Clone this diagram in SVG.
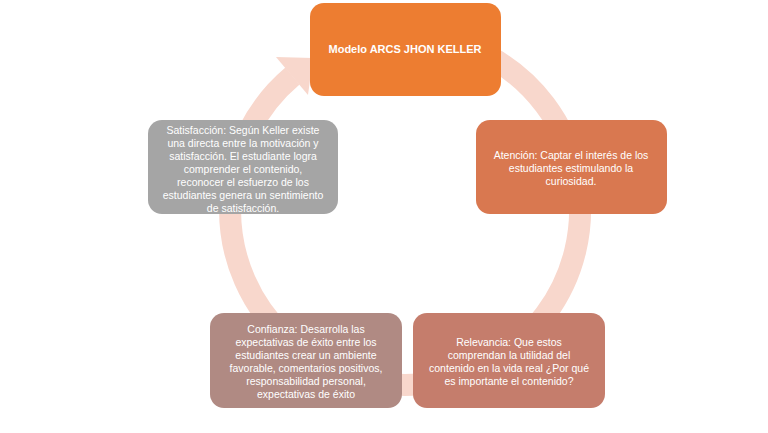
<svg xmlns="http://www.w3.org/2000/svg" width="768" height="433" viewBox="0 0 768 433">
<style>
text{font-family:"Liberation Sans",Arial,sans-serif;font-size:10.5px;fill:#fff;text-anchor:middle}
.b{font-weight:bold;font-size:11px}
</style>
<rect width="768" height="433" fill="#fff"/>
<g id="connectors">
<path d="M492.5,58.4 A175,175 0 1 1 292.5,76" fill="none" stroke="#f8d7cc" stroke-width="22"/>
<polygon points="308,95 276,57 313,58" fill="#f8d7cc"/>
</g>
<g id="top"><rect x="310" y="3" width="191" height="93" rx="14" fill="#ed7d31"/>
<text class="b" x="405" y="53">Modelo ARCS JHON KELLER</text></g>
<g id="atencion"><rect x="476" y="120" width="191" height="94" rx="14" fill="#d97850"/>
<text x="571" y="159">Atención: Captar el interés de los</text>
<text x="571" y="172">estudiantes estimulando la</text>
<text x="571" y="185">curiosidad.</text></g>
<g id="relevancia"><rect x="413" y="313" width="192" height="95" rx="14" fill="#c57d6c"/>
<text x="509" y="346">Relevancia: Que estos</text>
<text x="509" y="359">comprendan la utilidad del</text>
<text x="509" y="372">contenido en la vida real ¿Por qué</text>
<text x="509" y="385">es importante el contenido?</text></g>
<g id="confianza"><rect x="210" y="313" width="192" height="95" rx="14" fill="#b08a83"/>
<text x="306" y="333">Confianza: Desarrolla las</text>
<text x="306" y="346">expectativas de éxito entre los</text>
<text x="306" y="359">estudiantes crear un ambiente</text>
<text x="306" y="372">favorable, comentarios positivos,</text>
<text x="306" y="385">responsabilidad personal,</text>
<text x="306" y="398">expectativas de éxito</text></g>
<g id="satisfaccion"><rect x="148" y="120" width="190" height="94" rx="14" fill="#a5a5a5"/>
<text x="243" y="134">Satisfacción: Según Keller existe</text>
<text x="243" y="147">una directa entre la motivación y</text>
<text x="243" y="160">satisfacción. El estudiante logra</text>
<text x="243" y="173">comprender el contenido,</text>
<text x="243" y="186">reconocer el esfuerzo de los</text>
<text x="243" y="199">estudiantes genera un sentimiento</text>
<text x="243" y="212">de satisfacción.</text></g>
</svg>
